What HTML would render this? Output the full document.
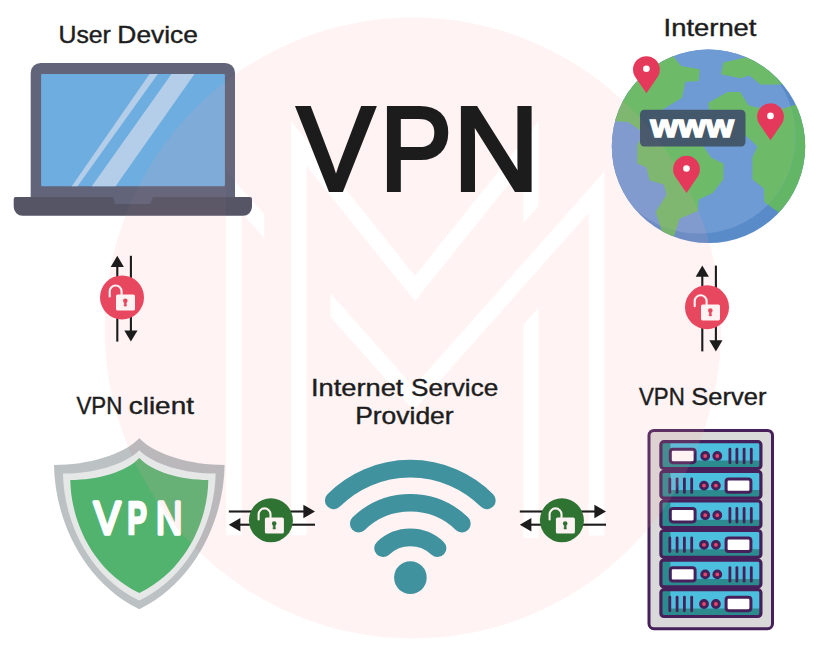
<!DOCTYPE html>
<html lang="en">
<head>
<meta charset="utf-8">
<title>VPN</title>
<style>
html,body{margin:0;padding:0;background:#fff;}
body{width:828px;height:657px;overflow:hidden;}
svg{display:block;}
text{font-family:"Liberation Sans",sans-serif;fill:#1d1d1d;}
.lbl{stroke:#1d1d1d;stroke-width:0.4px;}
</style>
</head>
<body>
<svg width="828" height="657" viewBox="0 0 828 657">
<defs>
<clipPath id="globeClip"><circle cx="708.5" cy="146.3" r="96.7"/></clipPath>
<clipPath id="lightClip"><circle cx="699.0" cy="136.8" r="96.7"/></clipPath>
<clipPath id="lapClip"><path d="M30.7 200 V72.9 a10 10 0 0 1 10 -10 H225 a10 10 0 0 1 10 10 V200Z"/><path d="M13.7 199.1 a2 2 0 0 1 2 -2 H250 a2 2 0 0 1 2 2 V206.8 a9 9 0 0 1 -9 9 H22.7 a9 9 0 0 1 -9 -9Z"/></clipPath>
<clipPath id="shOuter"><path d="M139.3 438.3 C155.5 455.0 190.5 465.0 224.6 465.0 C224.1 515.0 198.6 580.0 139.3 609.3 C80.0 580.0 54.5 515.0 54.0 465.0 C88.1 465.0 123.1 455.0 139.3 438.3Z"/></clipPath>
<clipPath id="shGreen"><path d="M139.3 458.0 C152.4 471.8 180.7 480.0 208.3 480.0 C207.9 519.1 187.3 570.0 139.3 592.9 C91.3 570.0 70.7 519.1 70.3 480.0 C97.9 480.0 126.2 471.8 139.3 458.0Z"/></clipPath>
<mask id="wm" maskUnits="userSpaceOnUse" x="0" y="0" width="828" height="657">
<rect width="828" height="657" fill="#000"/>
<ellipse cx="412.9" cy="328" rx="308.3" ry="310.5" fill="#fff"/>
<polygon points="226,171.3 264.3,214.6 264.3,238.1 241.6,212.4 241.6,535.2 226,535.2" fill="#000"/><polygon points="291.3,121.3 414.9,275.9 538.5,121.3 538.5,206 523.4,223.3 523.4,165.8 414.9,301.1 306.5,165.8 306.5,535.2 291.3,535.2" fill="#000"/><polygon points="604.3,171.6 604.3,535.6 588.7,535.6 588.7,212.7 413.5,410.6 330.4,316.7 330.4,293.2 413.5,387.1" fill="#000"/><polygon points="538.5,307.5 538.5,537.8 523.4,537.8 523.4,324.8" fill="#000"/>
</mask>
</defs>
<rect width="828" height="657" fill="#fff"/>

<!-- globe -->
<g clip-path="url(#globeClip)">
<rect x="600" y="40" width="220" height="215" fill="#5a8bc9"/>
<polygon points="673.6,56.7 681.1,65.9 699.6,69.3 698.7,81 685.4,81.8 682,97.7 662.8,109.5 665,135 640.2,130.4 628.5,122 615,121.2 600,121 600,40 673.6,40" fill="#63b665"/><polygon points="723.4,62.6 745.2,57.6 750,40 815,40 815,84.4 781.2,84.4 760.3,84.4 749.4,75.5 740.2,78.2 720.9,74.3" fill="#63b665"/><polygon points="708.4,102.8 727.6,91.9 740.2,91.9 748.5,105.3 757.7,107.8 783.7,108.6 793.7,105.3 815,100 815,230 778.5,212.2 764.3,202.1 763.9,188.4 752.4,179.3 752.4,157.4 757.5,146.4 745.7,135.5 740,130 710,120" fill="#63b665"/><polygon points="637.2,145 637.2,163.4 646.5,167.6 649.4,180.2 663.6,184.4 666.6,194.4 655.7,212 660.3,226.2 664,238 674.1,236.2 679.5,218.7 697.9,211.1 698.7,199.4 712.8,193 723.4,179.3 723.7,163.8 711,157.4 703.8,146.7 700,140 640,140" fill="#63b665"/>
<g clip-path="url(#lightClip)">
<rect x="600" y="40" width="220" height="215" fill="#6f9bd5"/>
<polygon points="673.6,56.7 681.1,65.9 699.6,69.3 698.7,81 685.4,81.8 682,97.7 662.8,109.5 665,135 640.2,130.4 628.5,122 615,121.2 600,121 600,40 673.6,40" fill="#6dbb69"/><polygon points="723.4,62.6 745.2,57.6 750,40 815,40 815,84.4 781.2,84.4 760.3,84.4 749.4,75.5 740.2,78.2 720.9,74.3" fill="#6dbb69"/><polygon points="708.4,102.8 727.6,91.9 740.2,91.9 748.5,105.3 757.7,107.8 783.7,108.6 793.7,105.3 815,100 815,230 778.5,212.2 764.3,202.1 763.9,188.4 752.4,179.3 752.4,157.4 757.5,146.4 745.7,135.5 740,130 710,120" fill="#6dbb69"/><polygon points="637.2,145 637.2,163.4 646.5,167.6 649.4,180.2 663.6,184.4 666.6,194.4 655.7,212 660.3,226.2 664,238 674.1,236.2 679.5,218.7 697.9,211.1 698.7,199.4 712.8,193 723.4,179.3 723.7,163.8 711,157.4 703.8,146.7 700,140 640,140" fill="#6dbb69"/>
</g>
</g>

<!-- server -->
<rect x="649" y="430.4" width="123.5" height="198.3" rx="5" fill="#d9d9d9" stroke="#46205a" stroke-width="3"/>
<g><rect x="660.9" y="441.7" width="100.0" height="26.8" rx="3" fill="#4cbfde"/><path d="M660.9 444.7 a3 3 0 0 1 3 -3 H670.4 V460.5 H760.9 V465.5 a3 3 0 0 1 -3 3 H663.9 a3 3 0 0 1 -3 -3Z" fill="#2c8b8f"/><rect x="660.9" y="441.7" width="100.0" height="26.8" rx="3" fill="none" stroke="#46205a" stroke-width="3.2"/><rect x="670.3" y="449.3" width="24.8" height="13.4" rx="2.6" fill="#fff" stroke="#46205a" stroke-width="3"/><circle cx="705.2" cy="456.0" r="3.4" fill="#e8476a" stroke="#46205a" stroke-width="3"/><circle cx="717.3" cy="456.0" r="3.4" fill="#e8476a" stroke="#46205a" stroke-width="3"/><path d="M729.9 449.2 V462.8" stroke="#46205a" stroke-width="2.8" stroke-linecap="round"/><path d="M736.9 449.2 V462.8" stroke="#46205a" stroke-width="2.8" stroke-linecap="round"/><path d="M744.1 449.2 V462.8" stroke="#46205a" stroke-width="2.8" stroke-linecap="round"/><path d="M751.3 449.2 V462.8" stroke="#46205a" stroke-width="2.8" stroke-linecap="round"/></g><g><rect x="660.9" y="471.3" width="100.0" height="26.8" rx="3" fill="#4cbfde"/><path d="M660.9 474.3 a3 3 0 0 1 3 -3 H670.4 V490.1 H760.9 V495.1 a3 3 0 0 1 -3 3 H663.9 a3 3 0 0 1 -3 -3Z" fill="#2c8b8f"/><rect x="660.9" y="471.3" width="100.0" height="26.8" rx="3" fill="none" stroke="#46205a" stroke-width="3.2"/><rect x="726.1" y="478.9" width="24.8" height="13.4" rx="2.6" fill="#fff" stroke="#46205a" stroke-width="3"/><circle cx="704.0" cy="485.6" r="3.4" fill="#e8476a" stroke="#46205a" stroke-width="3"/><circle cx="715.9" cy="485.6" r="3.4" fill="#e8476a" stroke="#46205a" stroke-width="3"/><path d="M669.8 478.8 V492.4" stroke="#46205a" stroke-width="2.8" stroke-linecap="round"/><path d="M677.1 478.8 V492.4" stroke="#46205a" stroke-width="2.8" stroke-linecap="round"/><path d="M684.4 478.8 V492.4" stroke="#46205a" stroke-width="2.8" stroke-linecap="round"/><path d="M691.7 478.8 V492.4" stroke="#46205a" stroke-width="2.8" stroke-linecap="round"/></g><g><rect x="660.9" y="500.9" width="100.0" height="26.8" rx="3" fill="#4cbfde"/><path d="M660.9 503.9 a3 3 0 0 1 3 -3 H670.4 V519.7 H760.9 V524.7 a3 3 0 0 1 -3 3 H663.9 a3 3 0 0 1 -3 -3Z" fill="#2c8b8f"/><rect x="660.9" y="500.9" width="100.0" height="26.8" rx="3" fill="none" stroke="#46205a" stroke-width="3.2"/><rect x="670.3" y="508.5" width="24.8" height="13.4" rx="2.6" fill="#fff" stroke="#46205a" stroke-width="3"/><circle cx="705.2" cy="515.2" r="3.4" fill="#e8476a" stroke="#46205a" stroke-width="3"/><circle cx="717.3" cy="515.2" r="3.4" fill="#e8476a" stroke="#46205a" stroke-width="3"/><path d="M729.9 508.4 V522.0" stroke="#46205a" stroke-width="2.8" stroke-linecap="round"/><path d="M736.9 508.4 V522.0" stroke="#46205a" stroke-width="2.8" stroke-linecap="round"/><path d="M744.1 508.4 V522.0" stroke="#46205a" stroke-width="2.8" stroke-linecap="round"/><path d="M751.3 508.4 V522.0" stroke="#46205a" stroke-width="2.8" stroke-linecap="round"/></g><g><rect x="660.9" y="530.5" width="100.0" height="26.8" rx="3" fill="#4cbfde"/><path d="M660.9 533.5 a3 3 0 0 1 3 -3 H670.4 V549.3 H760.9 V554.3 a3 3 0 0 1 -3 3 H663.9 a3 3 0 0 1 -3 -3Z" fill="#2c8b8f"/><rect x="660.9" y="530.5" width="100.0" height="26.8" rx="3" fill="none" stroke="#46205a" stroke-width="3.2"/><rect x="726.1" y="538.1" width="24.8" height="13.4" rx="2.6" fill="#fff" stroke="#46205a" stroke-width="3"/><circle cx="704.0" cy="544.8" r="3.4" fill="#e8476a" stroke="#46205a" stroke-width="3"/><circle cx="715.9" cy="544.8" r="3.4" fill="#e8476a" stroke="#46205a" stroke-width="3"/><path d="M669.8 538.0 V551.6" stroke="#46205a" stroke-width="2.8" stroke-linecap="round"/><path d="M677.1 538.0 V551.6" stroke="#46205a" stroke-width="2.8" stroke-linecap="round"/><path d="M684.4 538.0 V551.6" stroke="#46205a" stroke-width="2.8" stroke-linecap="round"/><path d="M691.7 538.0 V551.6" stroke="#46205a" stroke-width="2.8" stroke-linecap="round"/></g><g><rect x="660.9" y="560.1" width="100.0" height="26.8" rx="3" fill="#4cbfde"/><path d="M660.9 563.1 a3 3 0 0 1 3 -3 H670.4 V578.9 H760.9 V583.9 a3 3 0 0 1 -3 3 H663.9 a3 3 0 0 1 -3 -3Z" fill="#2c8b8f"/><rect x="660.9" y="560.1" width="100.0" height="26.8" rx="3" fill="none" stroke="#46205a" stroke-width="3.2"/><rect x="670.3" y="567.7" width="24.8" height="13.4" rx="2.6" fill="#fff" stroke="#46205a" stroke-width="3"/><circle cx="705.2" cy="574.4" r="3.4" fill="#e8476a" stroke="#46205a" stroke-width="3"/><circle cx="717.3" cy="574.4" r="3.4" fill="#e8476a" stroke="#46205a" stroke-width="3"/><path d="M729.9 567.6 V581.2" stroke="#46205a" stroke-width="2.8" stroke-linecap="round"/><path d="M736.9 567.6 V581.2" stroke="#46205a" stroke-width="2.8" stroke-linecap="round"/><path d="M744.1 567.6 V581.2" stroke="#46205a" stroke-width="2.8" stroke-linecap="round"/><path d="M751.3 567.6 V581.2" stroke="#46205a" stroke-width="2.8" stroke-linecap="round"/></g><g><rect x="660.9" y="589.7" width="100.0" height="26.8" rx="3" fill="#4cbfde"/><path d="M660.9 592.7 a3 3 0 0 1 3 -3 H670.4 V608.5 H760.9 V613.5 a3 3 0 0 1 -3 3 H663.9 a3 3 0 0 1 -3 -3Z" fill="#2c8b8f"/><rect x="660.9" y="589.7" width="100.0" height="26.8" rx="3" fill="none" stroke="#46205a" stroke-width="3.2"/><rect x="726.1" y="597.3" width="24.8" height="13.4" rx="2.6" fill="#fff" stroke="#46205a" stroke-width="3"/><circle cx="704.0" cy="604.0" r="3.4" fill="#e8476a" stroke="#46205a" stroke-width="3"/><circle cx="715.9" cy="604.0" r="3.4" fill="#e8476a" stroke="#46205a" stroke-width="3"/><path d="M669.8 597.2 V610.8" stroke="#46205a" stroke-width="2.8" stroke-linecap="round"/><path d="M677.1 597.2 V610.8" stroke="#46205a" stroke-width="2.8" stroke-linecap="round"/><path d="M684.4 597.2 V610.8" stroke="#46205a" stroke-width="2.8" stroke-linecap="round"/><path d="M691.7 597.2 V610.8" stroke="#46205a" stroke-width="2.8" stroke-linecap="round"/></g>

<!-- translucent watermark overlay -->
<rect width="828" height="657" fill="rgb(255,158,170)" fill-opacity="0.125" mask="url(#wm)"/>

<!-- wifi -->
<g fill="none" stroke="#40929e" stroke-width="17.6" stroke-linecap="round">
<path d="M333.7 500.4 A108.3 108.3 0 0 1 486.9 500.4"/>
<path d="M358.7 523.6 A74.3 74.3 0 0 1 461.9 523.6"/>
<path d="M383.0 548.3 A39.6 39.6 0 0 1 437.6 548.3"/>
</g>
<circle cx="410.4" cy="577.6" r="16.3" fill="#40929e"/>

<!-- shield (above overlay with per-layer tints) -->
<path d="M139.3 438.3 C155.5 455.0 190.5 465.0 224.6 465.0 C224.1 515.0 198.6 580.0 139.3 609.3 C80.0 580.0 54.5 515.0 54.0 465.0 C88.1 465.0 123.1 455.0 139.3 438.3Z" fill="#bcc1c4"/>
<rect x="50" y="430" width="180" height="185" fill="rgb(180,120,130)" fill-opacity="0.12" mask="url(#wm)" clip-path="url(#shOuter)"/>
<path d="M139.3 450.2 C153.8 464.8 185.1 473.6 215.6 473.6 C215.1 517.6 192.3 574.8 139.3 600.6 C86.3 574.8 63.5 517.6 63.0 473.6 C93.5 473.6 124.8 464.8 139.3 450.2Z" fill="#e6e8e8"/>
<path d="M139.3 458.0 C152.4 471.8 180.7 480.0 208.3 480.0 C207.9 519.1 187.3 570.0 139.3 592.9 C91.3 570.0 70.7 519.1 70.3 480.0 C97.9 480.0 126.2 471.8 139.3 458.0Z" fill="#52b36f"/>
<text y="533.8" font-size="46.5" style="fill:#fff;stroke:#fff;stroke-width:3.6px;stroke-linejoin:round"><tspan x="93.7" textLength="26.9" lengthAdjust="spacingAndGlyphs">V</tspan><tspan x="127.3" textLength="19.7" lengthAdjust="spacingAndGlyphs" font-weight="bold" style="stroke-width:2.6px">P</tspan><tspan x="155.9" textLength="26.3" lengthAdjust="spacingAndGlyphs">N</tspan></text>
<rect x="50" y="430" width="180" height="185" fill="rgb(255,158,170)" fill-opacity="0.125" mask="url(#wm)" clip-path="url(#shGreen)"/>

<!-- laptop (drawn above overlay, with its own lighter tint) -->
<g>
<path d="M30.7 200 V72.9 a10 10 0 0 1 10 -10 H225 a10 10 0 0 1 10 10 V200Z" fill="#62647a"/>
<path d="M13.7 199.1 a2 2 0 0 1 2 -2 H250 a2 2 0 0 1 2 2 V206.8 a9 9 0 0 1 -9 9 H22.7 a9 9 0 0 1 -9 -9Z" fill="#555565"/>
<polygon points="112.9,197.1 152.9,197.1 150.1,204 115,204" fill="#62647a"/>
<rect x="0" y="55" width="260" height="165" fill="rgb(255,158,170)" fill-opacity="0.045" mask="url(#wm)" clip-path="url(#lapClip)"/>
<rect x="41.1" y="74.1" width="183.8" height="112.1" rx="1.2" fill="#6eaddf"/>
<polygon points="149.6,74.1 157.8,74.1 77.5,186.2 71.8,186.2" fill="#b4cee9"/>
<polygon points="171.5,74.1 194.5,74.1 115.6,186.2 91.8,186.2" fill="#b4cee9"/>
<rect x="41.1" y="74.1" width="183.8" height="112.1" rx="1.2" fill="rgb(255,158,170)" fill-opacity="0.115" mask="url(#wm)"/>
</g>

<!-- www badge -->
<rect x="640" y="109.7" width="105.5" height="36.8" rx="4.5" fill="#43586a"/>
<rect x="640" y="109.7" width="105.5" height="36.8" rx="4.5" fill="rgb(255,158,170)" fill-opacity="0.04" mask="url(#wm)"/>
<text x="650.64" y="136.6" font-size="30.5" font-weight="bold" textLength="83.25" lengthAdjust="spacingAndGlyphs" style="fill:#fff;stroke:#fff;stroke-width:1.6px;stroke-linejoin:miter">www</text>
<!-- pins -->
<g transform="translate(646.4 56.2)"><path d="M0 37 L-11 21 A13.4 13.4 0 1 1 11 21 Z" fill="#e5395b"/><circle cx="0" cy="12.6" r="3.3" fill="#fff"/></g>
<g transform="translate(770.5 103.3)"><path d="M0 37 L-11 21 A13.4 13.4 0 1 1 11 21 Z" fill="#e5395b"/><circle cx="0" cy="12.6" r="3.3" fill="#fff"/></g>
<g transform="translate(686.5 155.9)"><path d="M0 37 L-11 21 A13.4 13.4 0 1 1 11 21 Z" fill="#e5395b"/><circle cx="0" cy="12.6" r="3.3" fill="#fff"/></g>
<!-- lock connectors -->
<g fill="#1c1c1c" stroke="none"><rect x="116.25" y="261.8" width="2.1" height="79.8"/><rect x="129.85" y="255.8" width="2.1" height="79.8"/><path d="M117.3 255.8 L123.9 267.0 H110.7Z"/><path d="M130.9 341.6 L137.5 330.4 H124.3Z"/></g><g transform="translate(122 297.4)">
<circle r="22" fill="#e8485f"/>
<path d="M-12.3 -0.9 V-5.95 A5.95 5.95 0 0 1 -0.4 -5.95 V-2" fill="none" stroke="#fff2f3" stroke-width="2.1" stroke-linecap="round"/>
<rect x="-6" y="-2.8" width="19" height="16" rx="1.6" fill="#fff2f3"/>
<circle cx="3.3" cy="3.3" r="2.3" fill="#e8485f"/>
<path d="M2.7 3.4 L2.1 8.7 H4.5 L3.9 3.4 Z" fill="#e8485f" stroke="#e8485f" stroke-width="0.6" stroke-linejoin="round"/>
</g>
<g fill="#1c1c1c" stroke="none"><rect x="701.25" y="271.6" width="2.1" height="79.8"/><rect x="714.85" y="265.6" width="2.1" height="79.8"/><path d="M702.3 265.6 L708.9 276.8 H695.7Z"/><path d="M715.9 351.4 L722.5 340.2 H709.3Z"/></g><g transform="translate(707 307.2)">
<circle r="22" fill="#e8485f"/>
<path d="M-12.3 -0.9 V-5.95 A5.95 5.95 0 0 1 -0.4 -5.95 V-2" fill="none" stroke="#fff2f3" stroke-width="2.1" stroke-linecap="round"/>
<rect x="-6" y="-2.8" width="19" height="16" rx="1.6" fill="#fff2f3"/>
<circle cx="3.3" cy="3.3" r="2.3" fill="#e8485f"/>
<path d="M2.7 3.4 L2.1 8.7 H4.5 L3.9 3.4 Z" fill="#e8485f" stroke="#e8485f" stroke-width="0.6" stroke-linejoin="round"/>
</g>
<g fill="#1c1c1c" stroke="none"><rect x="228.8" y="510.45" width="80.2" height="2.1"/><rect x="234.8" y="523.65" width="80.2" height="2.1"/><path d="M315.0 511.5 L303.4 504.8 V518.2Z"/><path d="M228.8 524.7 L240.4 518.0 V531.4Z"/></g><g transform="translate(270.9 520.3)">
<circle r="22" fill="#2f7332"/>
<path d="M-12.3 -0.9 V-5.95 A5.95 5.95 0 0 1 -0.4 -5.95 V-2" fill="none" stroke="#fff2f3" stroke-width="2.1" stroke-linecap="round"/>
<rect x="-6" y="-2.8" width="19" height="16" rx="1.6" fill="#fff2f3"/>
<circle cx="3.3" cy="3.3" r="2.3" fill="#2f7332"/>
<path d="M2.7 3.4 L2.1 8.7 H4.5 L3.9 3.4 Z" fill="#2f7332" stroke="#2f7332" stroke-width="0.6" stroke-linejoin="round"/>
</g>
<g fill="#1c1c1c" stroke="none"><rect x="519.8" y="510.45" width="80.2" height="2.1"/><rect x="525.8" y="523.65" width="80.2" height="2.1"/><path d="M606.0 511.5 L594.4 504.8 V518.2Z"/><path d="M519.8 524.7 L531.4 518.0 V531.4Z"/></g><g transform="translate(561.9 520.3)">
<circle r="22" fill="#2f7332"/>
<path d="M-12.3 -0.9 V-5.95 A5.95 5.95 0 0 1 -0.4 -5.95 V-2" fill="none" stroke="#fff2f3" stroke-width="2.1" stroke-linecap="round"/>
<rect x="-6" y="-2.8" width="19" height="16" rx="1.6" fill="#fff2f3"/>
<circle cx="3.3" cy="3.3" r="2.3" fill="#2f7332"/>
<path d="M2.7 3.4 L2.1 8.7 H4.5 L3.9 3.4 Z" fill="#2f7332" stroke="#2f7332" stroke-width="0.6" stroke-linejoin="round"/>
</g>

<!-- labels -->
<text class="lbl" y="42.6" font-size="23.2"><tspan x="58.5" textLength="52.4" lengthAdjust="spacingAndGlyphs">User</tspan> <tspan x="117.36" textLength="80.58" lengthAdjust="spacingAndGlyphs">Device</tspan></text>
<text class="lbl" y="35.7" font-size="23.2"><tspan x="663.61" textLength="92.86" lengthAdjust="spacingAndGlyphs">Internet</tspan></text>
<text class="lbl" y="413.9" font-size="23.2"><tspan x="76.39" textLength="45.93" lengthAdjust="spacingAndGlyphs">VPN</tspan> <tspan x="128.75" textLength="65.21" lengthAdjust="spacingAndGlyphs">client</tspan></text>
<text class="lbl" y="395.9" font-size="23.2"><tspan x="310.92" textLength="92.55" lengthAdjust="spacingAndGlyphs">Internet</tspan> <tspan x="411.14" textLength="87.1" lengthAdjust="spacingAndGlyphs">Service</tspan></text>
<text class="lbl" y="424.1" font-size="23.2"><tspan x="355.16" textLength="98.45" lengthAdjust="spacingAndGlyphs">Provider</tspan></text>
<text class="lbl" y="404.8" font-size="23.2"><tspan x="638.99" textLength="45.83" lengthAdjust="spacingAndGlyphs">VPN</tspan> <tspan x="691.36" textLength="75.04" lengthAdjust="spacingAndGlyphs">Server</tspan></text>
<text y="190.2" font-size="118" style="fill:#1c1c1c;stroke:#1c1c1c;stroke-width:4.2px;stroke-linejoin:miter"><tspan x="297.55" textLength="76.91" lengthAdjust="spacingAndGlyphs">V</tspan><tspan x="380.07" textLength="72.01" lengthAdjust="spacingAndGlyphs">P</tspan><tspan x="453.16" textLength="85.93" lengthAdjust="spacingAndGlyphs">N</tspan></text>
</svg>
</body>
</html>
